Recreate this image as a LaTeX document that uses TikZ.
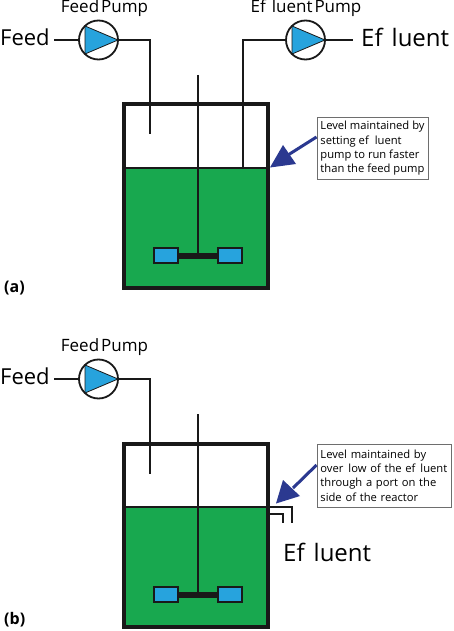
\documentclass[tikz,border=0pt]{standalone}
\usepackage{fontspec}
\setmainfont{Open Sans}
\definecolor{liq}{HTML}{18A84F}
\definecolor{pumpblue}{HTML}{27A3DD}
\definecolor{navy}{HTML}{2B3990}
\definecolor{boxgray}{HTML}{6E6E6E}
\newcommand{\wgap}[1]{{\spaceskip=#1pt\relax\ }}
\tikzset{
  pipe/.style={draw=black!90,line width=2pt},
  pumpnode/.style={circle,draw=black!90,line width=1.8pt,minimum size=39pt,inner sep=0pt,fill=white},
  big/.style={inner sep=0pt,anchor=west,font=\fontsize{22}{22}\selectfont},
  bigger/.style={inner sep=0pt,anchor=west,font=\fontsize{24}{24}\selectfont},
  pumplab/.style={inner sep=0pt,font=\fontsize{17}{17}\selectfont},
  note/.style={draw=boxgray,line width=0.9pt,fill=white,anchor=north west,inner xsep=3.5pt,inner ysep=2.5pt,align=left,font=\fontsize{11.2}{14.4}\selectfont},
  panel/.style={inner sep=0pt,anchor=west,font=\bfseries\fontsize{16}{16}\selectfont},
  blade/.style={draw=black!90,line width=1.7pt,fill=pumpblue,minimum width=24pt,minimum height=15pt,inner sep=0pt},
}
\newcommand{\vessel}[1]{%
  \begin{scope}[yshift=-#1 pt]
    \fill[liq] (124,168) rectangle (267,288);
    \draw[pipe] (124,168) -- (267,168);
    \draw[black!90,line width=4pt] (123.5,104.5) rectangle (267.5,288);
    \node[blade] (bl#1) at (166,255.5) {};
    \node[blade] (br#1) at (230,255.5) {};
    \draw[black!90,line width=6pt] (bl#1.east) -- (br#1.west);
    \coordinate (st#1) at (197.5,75);
    \coordinate (sb#1) at (197.5,255);
    \draw[pipe] (st#1) -- (sb#1);
    \coordinate (fa#1) at (54,40);
    \node[pumpnode] (fp#1) at (98.5,40) {};
    \fill[pumpblue,draw=black!90,line width=0.8pt] (85,26) -- (118,40) -- (85,54) -- cycle;
    \coordinate (fb#1) at (149.5,40);
    \coordinate (fc#1) at (149.5,134.5);
    \draw[pipe] (fa#1) -- (fp#1.west);
    \draw[pipe] (fp#1.east) -- (fb#1) -- (fc#1);
    \node[big,anchor=west] (feed#1) at (0,37) {Feed};
    \node[pumplab] (fl#1) at (104.5,8) {Feed\wgap{2}Pump};
  \end{scope}}
\begin{document}
\begin{tikzpicture}[x=1pt,y=-1pt]
\useasboundingbox (0,0) rectangle (453,631);
\fill[white] (0,0) rectangle (453,631);
% panel a
\vessel{0}
\coordinate (ea) at (353,40);
\node[pumpnode] (ep) at (305.5,40) {};
\fill[pumpblue,draw=black!90,line width=0.8pt] (292,26) -- (325,40) -- (292,54) -- cycle;
\coordinate (eb) at (242.5,40);
\coordinate (ec) at (242.5,168);
\draw[pipe] (ec) -- (eb) -- (ep.west);
\draw[pipe] (ep.east) -- (ea);
\node[pumplab] (el) at (306,8) {Ef\wgap{6}luent\wgap{2}Pump};
\node[bigger] (eff) at (361,37) {Ef\wgap{9}luent};
\node[note,minimum height=62pt] (na) at (316.5,117) {Level maintained by\\setting ef\wgap{6}luent\\pump to run faster\\than the feed pump};
\coordinate (tipa) at (270,167.5);
\draw[navy,line width=3pt] (na.west |- 0,137) -- (288,155);
\fill[navy] (tipa) -- (283,145) -- (296,164) -- cycle;
\node[panel] (pa) at (4,288) {(a)};
% panel b
\vessel{339}
\coordinate (p1) at (268,506.7);
\coordinate (p2) at (291.7,506.7);
\coordinate (p3) at (291.7,522.7);
\coordinate (q1) at (268,514.3);
\coordinate (q2) at (282.7,514.3);
\coordinate (q3) at (282.7,522.7);
\draw[pipe] (p1) -- (p2) -- (p3);
\draw[pipe] (q1) -- (q2) -- (q3);
\node[bigger] (effb) at (283,552) {Ef\wgap{9}luent};
\node[note,text width=127pt,minimum height=63pt] (nb) at (316.5,443.5) {Level maintained by\\over\wgap{5}low of the ef\wgap{5}luent\\through a port on the\\side of the reactor};
\coordinate (tipb) at (276,503.5);
\draw[navy,line width=3pt] (nb.west |- 0,465) -- (293,488);
\fill[navy] (tipb) -- (283,480) -- (300,496) -- cycle;
\node[panel] (pb) at (4,620) {(b)};
\end{tikzpicture}
\end{document}
